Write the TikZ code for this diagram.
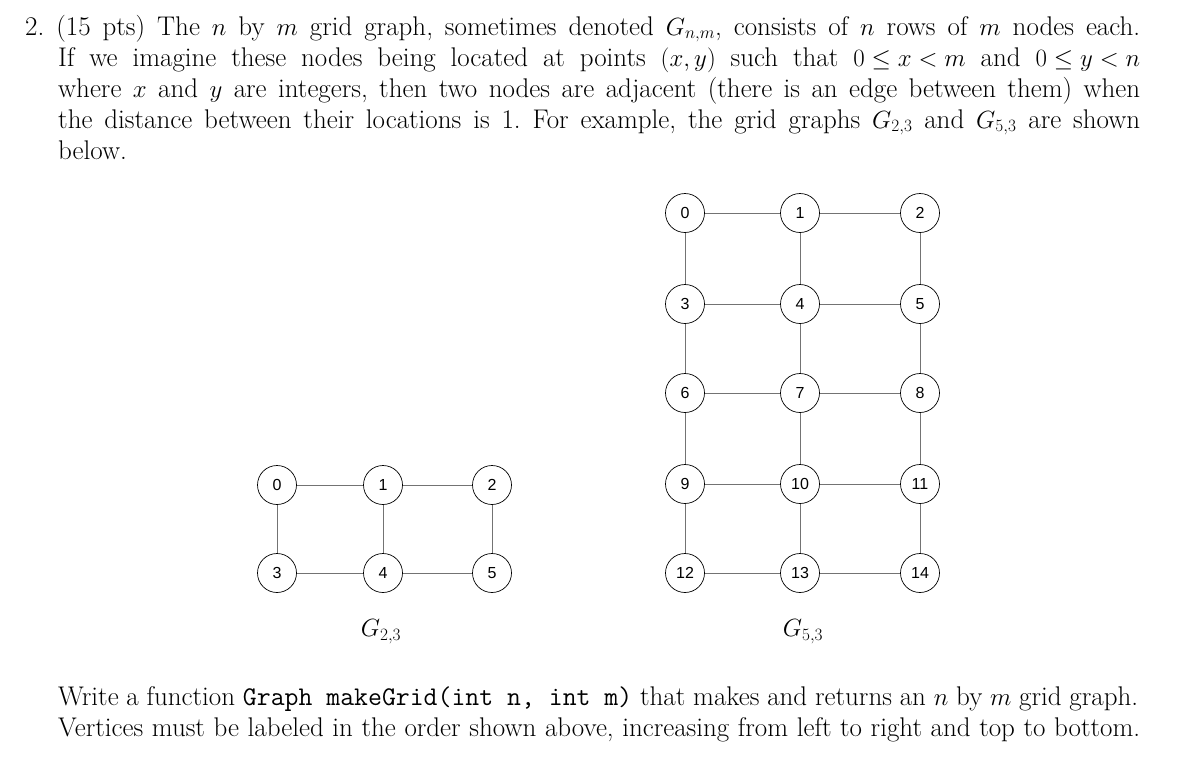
\documentclass[tikz,border=0pt]{standalone}
\usepackage{fontspec}
\newfontfamily\arialf{Liberation Sans}
\frenchspacing
\begin{document}
\begin{tikzpicture}[x=1pt,y=-1pt,
  v/.style={circle,draw=black,line width=0.7pt,fill=white,minimum size=39pt,inner sep=0pt,font=\arialf\fontsize{16}{16}\selectfont},
  e/.style={draw=black!55,line width=0.8pt},
  ln/.style={anchor=base west,inner sep=0pt,font=\fontsize{27}{31}\selectfont}]
\useasboundingbox (0,0) rectangle (1189,769);
\node[ln] (l1) at (25,35) {\makebox[1115pt][s]{2. (15 pts) The $n$ by $m$ grid graph, sometimes denoted $G_{n,m}$, consists of $n$ rows of $m$ nodes each.}};
\node[ln] (l2) at (58,66) {\makebox[1082pt][s]{If we imagine these nodes being located at points $(x,y)$ such that ${0\le x<m}$ and ${0\le y<n}$}};
\node[ln] (l3) at (58,97) {\makebox[1082pt][s]{where $x$ and $y$ are integers, then two nodes are adjacent (there is an edge between them) when}};
\node[ln] (l4) at (58,128) {\makebox[1082pt][s]{the distance between their locations is 1. For example, the grid graphs $G_{2,3}$ and $G_{5,3}$ are shown}};
\node[ln] (l5) at (58,159) {below.};
\node[ln] (b1) at (58,705) {\makebox[1080pt][s]{Write a function \texttt{Graph makeGrid(int n, int m)} that makes and returns an $n$ by $m$ grid graph.}};
\node[ln] (b2) at (58,736) {\makebox[1082pt][s]{Vertices must be labeled in the order shown above, increasing from left to right and top to bottom.}};
% G2,3
\foreach \i/\x/\y in {0/277/485,1/383/485,2/492/485,3/277/573,4/383/573,5/492/573}
  \node[v] (a\i) at (\x,\y) {\i};
\foreach \p/\q in {0/1,1/2,3/4,4/5,0/3,1/4,2/5} \draw[e] (a\p) -- (a\q);
% G5,3
\foreach \r/\y in {0/213,1/304,2/393,3/484,4/573}
  \foreach \c/\x in {0/685,1/800,2/920}{
    \pgfmathtruncatemacro{\k}{3*\r+\c}
    \node[v] (b\k) at (\x,\y) {\k};}
\foreach \r in {0,...,4}{
  \pgfmathtruncatemacro{\s}{3*\r}\pgfmathtruncatemacro{\t}{3*\r+1}\pgfmathtruncatemacro{\u}{3*\r+2}
  \draw[e] (b\s) -- (b\t); \draw[e] (b\t) -- (b\u);}
\foreach \k in {0,...,11}{
  \pgfmathtruncatemacro{\j}{\k+3}
  \draw[e] (b\k) -- (b\j);}
\node[font=\fontsize{26}{26}\selectfont] (ga) at (381,632) {$G_{2,3}$};
\node[font=\fontsize{26}{26}\selectfont] (gb) at (803,632) {$G_{5,3}$};
\end{tikzpicture}
\end{document}
